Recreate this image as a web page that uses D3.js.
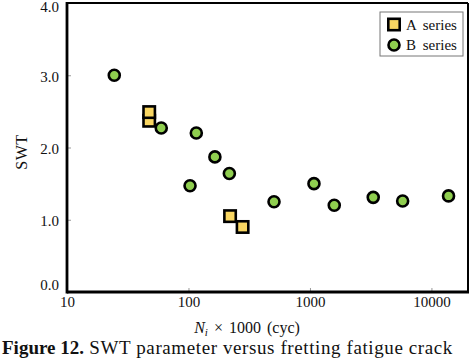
<!DOCTYPE html>
<html>
<head>
<meta charset="utf-8">
<script src="https://cdn.jsdelivr.net/npm/d3@7"></script>
<style>
  html, body { margin: 0; padding: 0; background: #fff; }
  svg { display: block; }
  text { font-family: "Liberation Serif", "DejaVu Serif", serif; fill: #111; }
</style>
</head>
<body>
<script>
// ---- data ----
const seriesNames = ["A series", "B series"];
const aCycles = [47.5, 47.5, 220, 279];
const aSWT    = [2.37, 2.49, 1.05, 0.90];
const bCycles = [24.5, 59.7, 116, 165, 217, 103, 506, 1079, 1585, 3318, 5795, 13830];
const bSWT    = [3.00, 2.27, 2.20, 1.87, 1.64, 1.47, 1.25, 1.50, 1.20, 1.31, 1.26, 1.33];
const xTicks = [10, 100, 1000, 10000];
const yTicks = [0, 1, 2, 3, 4];

const W = 474, H = 360;
const plot = { left: 67, right: 468, top: 3, bottom: 292 };
const colA = "#f9d662", colB = "#8fce4f";

const svg = d3.select("body").append("svg").attr("width", W).attr("height", H);

const x = d3.scaleLog().domain([10, 20000]).range([plot.left, plot.right]);
const y = d3.scaleLinear().domain([0, 4]).range([plot.bottom, plot.top]);

// x axis
const gx = svg.append("g").attr("transform", `translate(0,${plot.bottom})`)
  .call(d3.axisBottom(x).tickValues(xTicks).tickFormat(d3.format("d")).tickSizeInner(-4).tickSizeOuter(0));
gx.select(".domain").remove();
gx.selectAll(".tick line").attr("stroke", "#999");
gx.selectAll(".tick text").attr("y", 15).attr("dy", 0).style("font-size", "15px")
  .style("font-family", "Liberation Serif, serif").attr("fill", "#111");

// y axis
const gy = svg.append("g").attr("transform", `translate(${plot.left},0)`)
  .call(d3.axisLeft(y).tickValues(yTicks).tickFormat(d3.format(".1f")).tickSizeInner(-4).tickSizeOuter(0));
gy.select(".domain").remove();
gy.selectAll(".tick line").attr("stroke", "#999");
gy.selectAll(".tick text").attr("x", -8).attr("dy", "0.4em").style("font-size", "15px")
  .style("font-family", "Liberation Serif, serif").attr("fill", "#111");
gy.selectAll(".tick").filter(d => d === 0).select("text").attr("dy", "-0.2em");
gy.selectAll(".tick").filter(d => d === 4).select("text").attr("dy", "0.55em");

// frame
svg.append("line").attr("x1", plot.left).attr("x2", plot.right).attr("y1", plot.top).attr("y2", plot.top)
  .attr("stroke", "#000").attr("stroke-width", 2);
svg.append("line").attr("x1", plot.right).attr("x2", plot.right).attr("y1", plot.top).attr("y2", plot.bottom)
  .attr("stroke", "#000").attr("stroke-width", 2);
svg.append("line").attr("x1", plot.left).attr("x2", plot.right + 1).attr("y1", plot.bottom).attr("y2", plot.bottom)
  .attr("stroke", "#000").attr("stroke-width", 2.8);
svg.append("line").attr("x1", plot.left).attr("x2", plot.left).attr("y1", plot.top - 1).attr("y2", plot.bottom + 1.4)
  .attr("stroke", "#000").attr("stroke-width", 2.8);

// A series squares
const sq = 11.4;
const aData = aCycles.map((c, i) => ({ c, v: aSWT[i] }));
svg.append("g").selectAll("rect").data(aData).join("rect")
  .attr("x", d => x(d.c) - sq / 2).attr("y", d => y(d.v) - sq / 2)
  .attr("width", sq).attr("height", sq)
  .attr("fill", colA).attr("stroke", "#000").attr("stroke-width", 2.6);

// B series circles
const bData = bCycles.map((c, i) => ({ c, v: bSWT[i] }));
svg.append("g").selectAll("circle").data(bData).join("circle")
  .attr("cx", d => x(d.c)).attr("cy", d => y(d.v)).attr("r", 5.5)
  .attr("fill", colB).attr("stroke", "#000").attr("stroke-width", 2.6);

// legend
const lg = svg.append("g");
lg.append("rect").attr("x", 380).attr("y", 12).attr("width", 83).attr("height", 44)
  .attr("fill", "#fff").attr("stroke", "#777").attr("stroke-width", 1);
lg.append("rect").attr("x", 394 - sq / 2).attr("y", 24.5 - sq / 2).attr("width", sq).attr("height", sq)
  .attr("fill", colA).attr("stroke", "#000").attr("stroke-width", 2.6);
lg.append("circle").attr("cx", 394).attr("cy", 45).attr("r", 5.5)
  .attr("fill", colB).attr("stroke", "#000").attr("stroke-width", 2.6);
lg.selectAll("text.lt").data(seriesNames).join("text").attr("class", "lt")
  .attr("x", 406).attr("y", (d, i) => 29.5 + i * 20.5)
  .style("font-size", "15px").style("word-spacing", "3px").text(d => d);

// y label
svg.append("text").attr("transform", "translate(27,152) rotate(-90)")
  .attr("text-anchor", "middle").style("font-size", "16px").style("letter-spacing", "0.5px").text("SWT");

// x label
const xl = svg.append("text").attr("x", 247).attr("y", 333).attr("text-anchor", "middle")
  .style("font-size", "16px").style("word-spacing", "2px");
xl.append("tspan").style("font-style", "italic").text("N");
xl.append("tspan").style("font-style", "italic").style("font-size", "11px").attr("dy", 3).text("i");
xl.append("tspan").attr("dy", -3).text(" × 1000 (cyc)");

// caption
const cap = svg.append("text").attr("x", 2).attr("y", 354).style("font-size", "19px");
cap.append("tspan").style("font-weight", "bold").text("Figure 12.");
cap.append("tspan").style("letter-spacing", "0.6px").text("  SWT parameter versus fretting fatigue crack");
</script>
</body>
</html>
